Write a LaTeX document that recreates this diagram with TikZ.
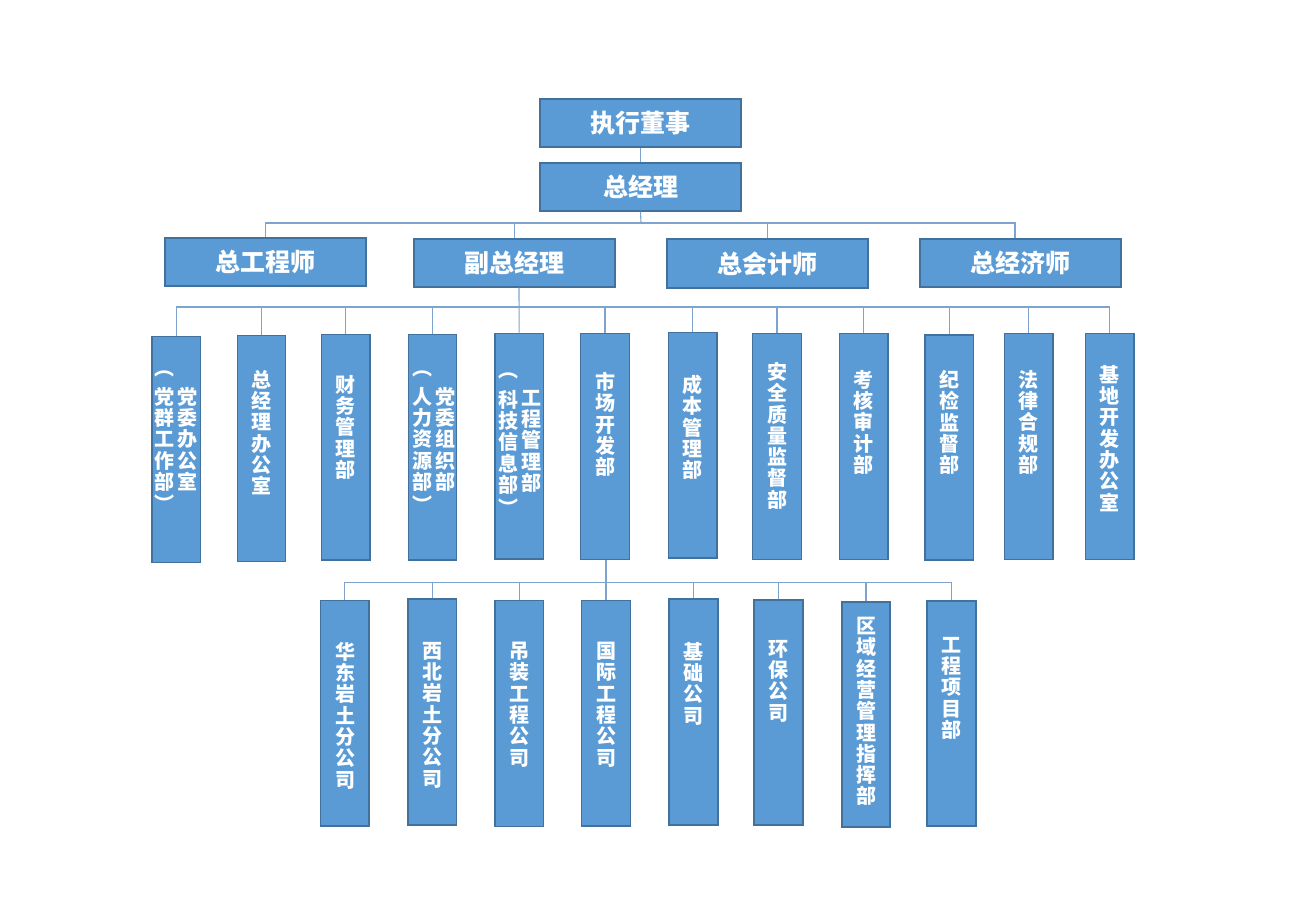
\documentclass[tikz,border=0pt]{standalone}
\usepackage{fontspec}
\newfontfamily\cjk{Noto Sans CJK SC}
\usetikzlibrary{fit}
\definecolor{boxfill}{HTML}{5B9BD5}
\definecolor{boxline}{HTML}{41719C}
\definecolor{connline}{HTML}{7EA3CC}
\tikzset{
  bx/.style={draw=boxline, fill=boxfill, line width=1.3pt, inner sep=0pt},
  ht/.style={inner sep=0pt, text=white, font=\cjk\bfseries\fontsize{25}{28}\selectfont},
  vt/.style={anchor=north, inner sep=0pt, align=center, text=white,
    font=\cjk\bfseries\fontsize{20}{21.3}\selectfont},
  par/.style={inner sep=0pt, text=white, font=\cjk\bfseries\fontsize{20}{21.3}\selectfont},
  conn/.style={draw=connline, line width=1.1pt}
}
\newcommand\mybox[5]{\node[bx, fit={(#2,#3) (#4,#5)}] (#1) {};}
\newcommand\mytext[4]{\node[vt] (#1) at (#2,#3) {#4};}
\begin{document}
\begin{tikzpicture}[x=1pt,y=-1pt]
\useasboundingbox[fill=white] (0,0) rectangle (1304,903);

\coordinate (b1) at (641,223);
\coordinate (b2) at (519,307);
\coordinate (b3) at (606,582.5);

% level 1 & 2 boxes
\mybox{exec}{540}{99}{741}{147}
\mybox{gm}{540}{163}{741}{211}
\mybox{zgcs}{165}{238}{366}{286}
\mybox{fzjl}{414}{239}{615}{287}
\mybox{zkjs}{667}{239}{868}{288}
\mybox{zjjs}{920}{239}{1121}{287}

% level 3 boxes
\mybox{dqb}{152}{336.7}{200.3}{562.7}
\mybox{zjlb}{237.3}{335.7}{285.7}{561.7}
\mybox{cwb}{321.7}{334.7}{370}{560}
\mybox{dwzzb}{408.3}{334.7}{456.7}{560}
\mybox{gcglb}{495}{333.3}{543.3}{559}
\mybox{scb}{580.7}{333.3}{629.3}{559.3}
\mybox{cbb}{668.7}{332.3}{717}{558}
\mybox{aqb}{752.7}{333.3}{801.3}{559.3}
\mybox{khb}{839.3}{333.3}{888}{559.3}
\mybox{jjb}{925}{335}{973.3}{560}
\mybox{flb}{1004.3}{333.3}{1053}{559.3}
\mybox{jdb}{1085.3}{333.3}{1134}{559.3}

% level 4 boxes
\mybox{hd}{320.7}{600.7}{369}{826}
\mybox{xb}{408}{599}{456.7}{825}
\mybox{dz}{495}{600.7}{543.7}{826.7}
\mybox{gj}{581.7}{600.7}{630.7}{826}
\mybox{jc}{669}{599}{718}{825}
\mybox{hb}{754}{600}{803}{825}
\mybox{qy}{842}{602}{890}{827}
\mybox{gc}{927}{601}{976}{826}

% connectors
\draw[conn] (exec.south) -- (gm.north);
\draw[conn] (gm.south) -- (b1);
\draw[conn] (zgcs.north) |- (b1);
\draw[conn] (fzjl.north) |- (b1);
\draw[conn] (zkjs.north) |- (b1);
\draw[conn] ([xshift=-5.5pt]zjjs.north) |- (b1);

\draw[conn] (b2 |- fzjl.south) -- (gcglb.north);
\foreach \n in {dqb,zjlb,cwb,dwzzb,scb,cbb,aqb,khb,jjb,flb,jdb}
  \draw[conn] (\n.north) |- (b2);

\draw[conn] (b3 |- scb.south) -- (b3 |- gj.north);
\foreach \n in {hd,xb,dz,jc,hb,qy,gc}
  \draw[conn] (\n.north) |- (b3);

% level 1 & 2 texts
\node[ht] (execT) at (exec.center) {执行董事};
\node[ht] (gmT) at (gm.center) {总经理};
\node[ht] (zgcsT) at (zgcs.center) {总工程师};
\node[ht] (fzjlT) at (fzjl.center) {副总经理};
\node[ht] (zkjsT) at (zkjs.center) {总会计师};
\node[ht] (zjjsT) at (zjjs.center) {总经济师};

% level 3 texts
\mytext{t1a}{187.5}{387}{党\\委\\办\\公\\室}
\mytext{t1b}{164.5}{387}{党\\群\\工\\作\\部}
\node[par] (p1a) at (164.5,374) {︵};
\node[par] (p1b) at (164.5,503) {︶};
\mytext{t2}{261.5}{370}{总\\经\\理\\办\\公\\室}
\mytext{t3}{345.8}{375}{财\\务\\管\\理\\部}
\mytext{t4a}{445}{387}{党\\委\\组\\织\\部}
\mytext{t4b}{422}{387}{人\\力\\资\\源\\部}
\node[par] (p4a) at (422,374) {︵};
\node[par] (p4b) at (422,504) {︶};
\mytext{t5a}{531}{390}{工\\程\\管\\理\\部}
\mytext{t5b}{508}{390}{科\\技\\信\\息\\部}
\node[par] (p5a) at (508,376) {︵};
\node[par] (p5b) at (508,507) {︶};
\mytext{t6}{605}{372}{市\\场\\开\\发\\部}
\mytext{t7}{692.8}{375}{成\\本\\管\\理\\部}
\mytext{t8}{777}{362}{安\\全\\质\\量\\监\\督\\部}
\mytext{t9}{863.7}{370}{考\\核\\审\\计\\部}
\mytext{t10}{949.2}{370}{纪\\检\\监\\督\\部}
\mytext{t11}{1028.7}{370}{法\\律\\合\\规\\部}
\mytext{t12}{1109.7}{365}{基\\地\\开\\发\\办\\公\\室}

% level 4 texts
\mytext{u1}{345}{642}{华\\东\\岩\\土\\分\\公\\司}
\mytext{u2}{432.4}{642}{西\\北\\岩\\土\\分\\公\\司}
\mytext{u3}{519.3}{642}{吊\\装\\工\\程\\公\\司}
\mytext{u4}{606}{642}{国\\际\\工\\程\\公\\司}
\mytext{u5}{693.5}{642}{基\\础\\公\\司}
\mytext{u6}{778.5}{640}{环\\保\\公\\司}
\mytext{u7}{866}{617}{区\\域\\经\\营\\管\\理\\指\\挥\\部}
\mytext{u8}{951.5}{637}{工\\程\\项\\目\\部}
\end{tikzpicture}
\end{document}
